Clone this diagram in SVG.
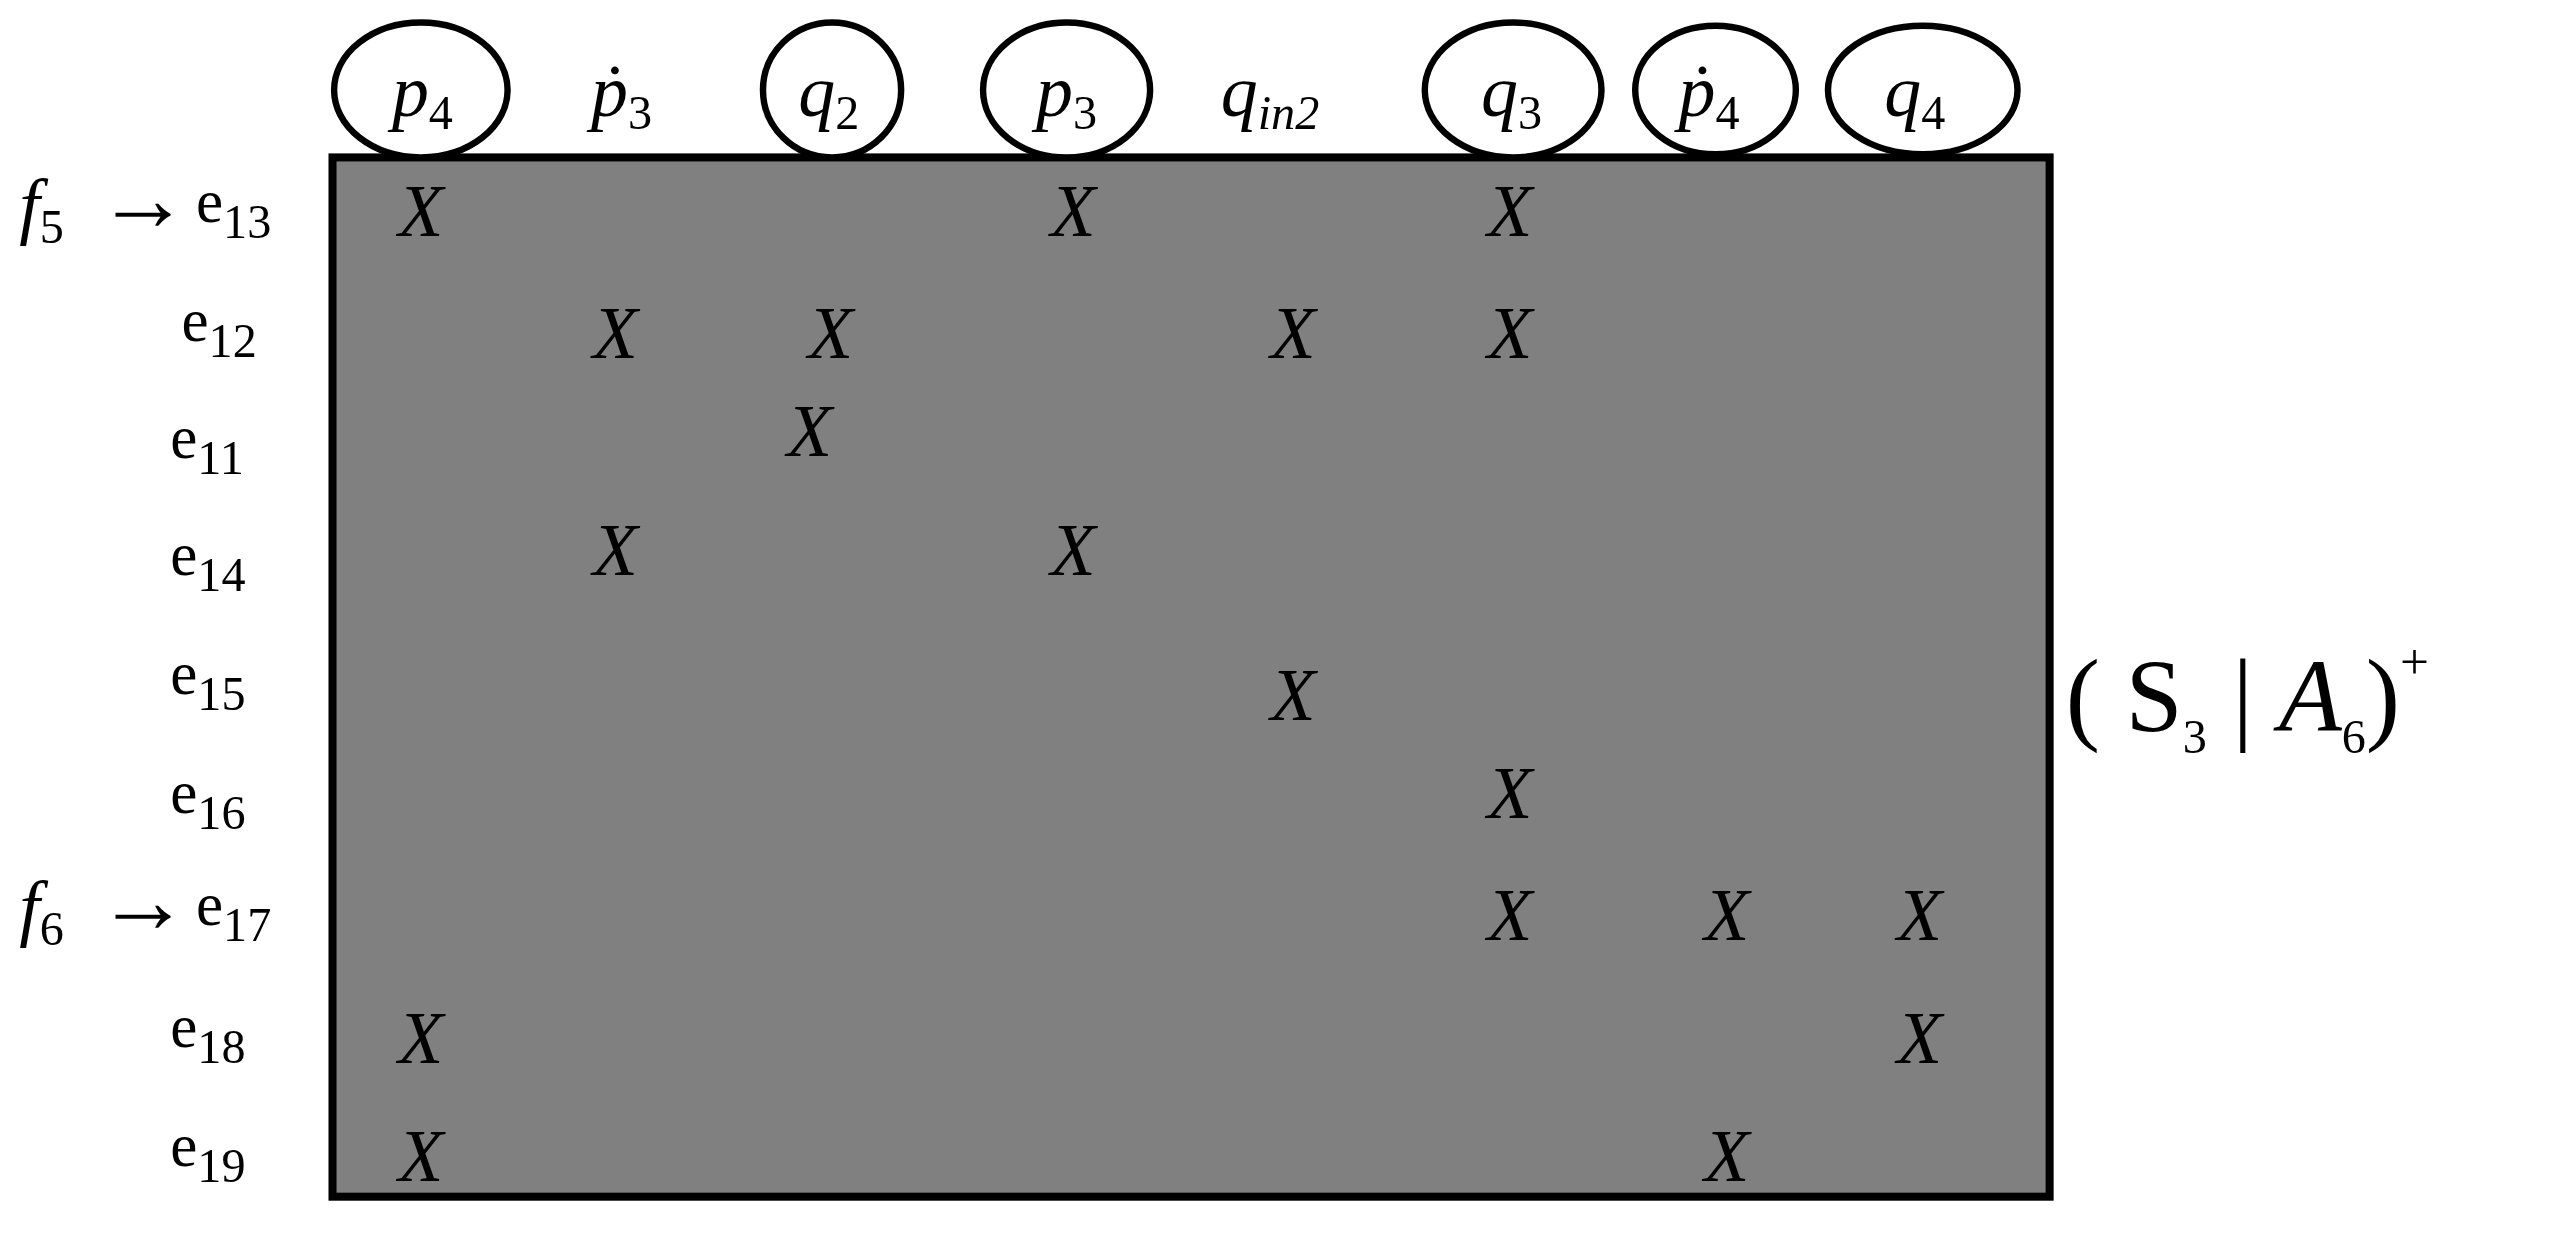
<svg xmlns="http://www.w3.org/2000/svg" width="2570" height="1247" viewBox="0 0 2570 1247">
<style>
text{font-family:"Liberation Serif","Times New Roman",serif;fill:#000}
.x{font-style:italic;font-size:46px;text-anchor:middle}
.h{font-style:italic;font-size:46px}
.s{font-size:30px;font-style:normal}
.i{font-style:italic}
.e{font-size:38px}
.n{fill:#fff;stroke:#000;stroke-width:4}
</style>
<rect width="2570" height="1247" fill="#fff"/>
<g transform="scale(1.6063)">
<g id="matrix"><rect x="207" y="98" width="1069" height="647" fill="#808080" stroke="#000" stroke-width="5"/></g>
<g id="n-p4"><ellipse class="n" cx="262" cy="56" rx="54" ry="42"/><text class="h" x="244" y="72">p<tspan class="s" dy="8">4</tspan></text></g>
<g id="n-p3dot"><text class="h" x="368" y="72">ṗ<tspan class="s" dy="8">3</tspan></text></g>
<g id="n-q2"><ellipse class="n" cx="518" cy="56" rx="43" ry="42"/><text class="h" x="497" y="72">q<tspan class="s" dy="8">2</tspan></text></g>
<g id="n-p3"><ellipse class="n" cx="664" cy="56" rx="52" ry="42"/><text class="h" x="645" y="72">p<tspan class="s" dy="8">3</tspan></text></g>
<g id="n-qin2"><text class="h" x="760" y="72">q<tspan class="s i" dy="8">in2</tspan></text></g>
<g id="n-q3"><ellipse class="n" cx="942" cy="56" rx="55" ry="42"/><text class="h" x="922" y="72">q<tspan class="s" dy="8">3</tspan></text></g>
<g id="n-p4dot"><ellipse class="n" cx="1068" cy="56" rx="50" ry="40"/><text class="h" x="1045" y="72">ṗ<tspan class="s" dy="8">4</tspan></text></g>
<g id="n-q4"><ellipse class="n" cx="1197" cy="56" rx="59" ry="40"/><text class="h" x="1173" y="72">q<tspan class="s" dy="8">4</tspan></text></g>
<g id="rows">
<text x="12" y="143" class="h" font-size="48">f<tspan class="s" dy="8">5</tspan></text>
<text x="60" y="143" font-size="58">→</text>
<text x="12" y="580" class="h" font-size="48">f<tspan class="s" dy="8">6</tspan></text>
<text x="60" y="580" font-size="58">→</text>
<text class="e" x="122" y="138">e<tspan class="s" dy="10">13</tspan></text>
<text class="e" x="113" y="212">e<tspan class="s" dy="10">12</tspan></text>
<text class="e" x="106" y="285">e<tspan class="s" dy="10">11</tspan></text>
<text class="e" x="106" y="358">e<tspan class="s" dy="10">14</tspan></text>
<text class="e" x="106" y="432">e<tspan class="s" dy="10">15</tspan></text>
<text class="e" x="106" y="506">e<tspan class="s" dy="10">16</tspan></text>
<text class="e" x="122" y="576">e<tspan class="s" dy="10">17</tspan></text>
<text class="e" x="106" y="652">e<tspan class="s" dy="10">18</tspan></text>
<text class="e" x="106" y="726">e<tspan class="s" dy="10">19</tspan></text>
</g>
<g id="marks">
<text class="x" x="262" y="147">X</text><text class="x" x="668" y="147">X</text><text class="x" x="940" y="147">X</text>
<text class="x" x="383" y="223">X</text><text class="x" x="517" y="223">X</text><text class="x" x="805" y="223">X</text><text class="x" x="940" y="223">X</text>
<text class="x" x="504" y="284">X</text>
<text class="x" x="383" y="358">X</text><text class="x" x="668" y="358">X</text>
<text class="x" x="805" y="448">X</text>
<text class="x" x="940" y="509">X</text>
<text class="x" x="940" y="585">X</text><text class="x" x="1075" y="585">X</text><text class="x" x="1195" y="585">X</text>
<text class="x" x="262" y="662">X</text><text class="x" x="1195" y="662">X</text>
<text class="x" x="262" y="735">X</text><text class="x" x="1075" y="735">X</text>
</g>
<g id="label"><text x="1286" y="455" font-size="64">( S<tspan class="s" font-size="40" dy="14">3</tspan><tspan dy="-14"> | </tspan><tspan class="i">A</tspan><tspan class="s" font-size="40" dy="14">6</tspan><tspan dy="-14">)</tspan><tspan font-size="32" dy="-32">+</tspan></text></g>
</g>
</svg>
